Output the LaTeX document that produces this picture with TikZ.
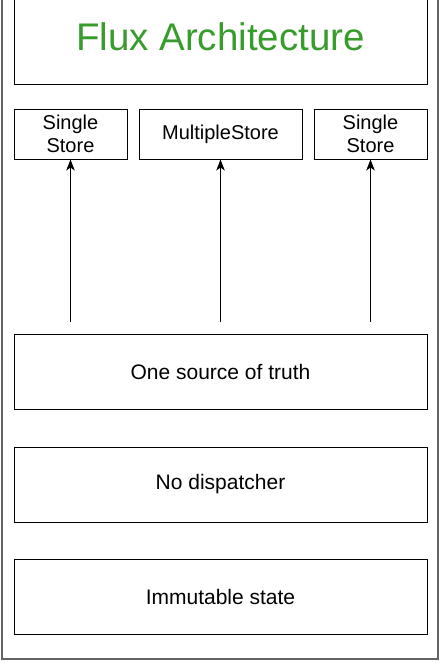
\documentclass[tikz,border=0pt]{standalone}
\usepackage{fontspec}
\setmainfont{Liberation Sans}
\usetikzlibrary{positioning, arrows.meta}
\definecolor{fluxgreen}{RGB}{56,156,44}
\definecolor{framegray}{RGB}{100,100,100}
\tikzset{
	box/.style={draw=black, line width=1pt, align=center, inner sep=0pt,
		font=\fontsize{20}{23}\selectfont}
}
\tikzset{
	storebox/.style={box, minimum height=50pt}
}
\tikzset{
	rulebox/.style={box, minimum width=413pt, minimum height=75pt,
		font=\fontsize{21}{24}\selectfont}
}

\begin{document}
\begin{tikzpicture}[>={Stealth[length=11pt, width=8.5pt, inset=3pt]}, x=1pt, y=-1pt]
      \useasboundingbox (0,0) rectangle (441,664);
      \begin{scope}
      \clip (0,0) rectangle (441,664);
      % outer frame, its top runs off the page
      \draw[framegray, line width=1.3pt] (2,-20) rectangle (438,659);
      \node[box, minimum width=413pt, minimum height=94pt,
        font=\fontsize{38.5}{42}\selectfont\color{fluxgreen}] (title) at (220.5,37) {Flux Architecture};
      \end{scope}
      % the three stores
      \node[storebox, minimum width=113pt] (singleL) at (70.5,134) {Single\\Store};
      \node[storebox, minimum width=163pt] (multi) at (220.5,134) {MultipleStore};
      \node[storebox, minimum width=113pt] (singleR) at (370.5,134) {Single\\Store};
      % the three rules
      \node[rulebox] (truth) at (220.5,371.5) {One source of truth};
      \node[rulebox] (nodisp) at (220.5,484.5) {No dispatcher};
      \node[rulebox] (immut) at (220.5,597) {Immutable state};
      \foreach \s in {singleL,multi,singleR} {
        \coordinate (\s-tail) at (\s.south |- 0,322);
        \draw[line width=1pt, ->] (\s-tail) -- (\s.south);
      }
    \end{tikzpicture}
\end{document}
